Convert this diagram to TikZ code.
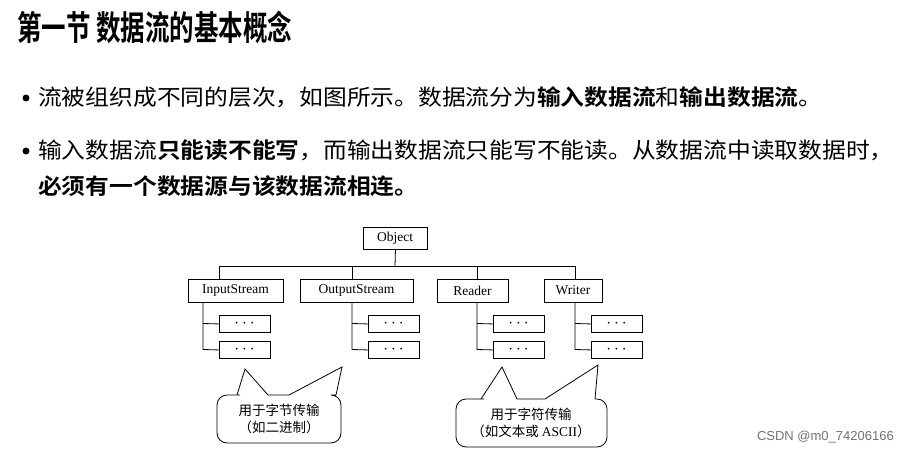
\documentclass[tikz,border=0pt]{standalone}
\usepackage{fontspec}
\setmainfont{Liberation Serif}
\newfontfamily\cjk{Noto Sans CJK SC}
\newfontfamily\cjkb{Noto Sans CJK SC Bold}
\newfontfamily\wm{Liberation Sans}
\begin{document}
\begin{tikzpicture}[x=1pt,y=-1pt,
  box/.style={draw,line width=0.9pt,inner sep=0pt,anchor=north west},
  ln/.style={line width=0.8pt},
  txt/.style={anchor=west,inner sep=0pt,xscale=1.08,font=\cjk\fontsize{22}{24}\selectfont},
  lbl/.style={font=\fontsize{13.5}{15}\selectfont},
  dots/.style={font=\bfseries\fontsize{16}{16}\selectfont}]
\useasboundingbox (0,0) rectangle (909,454);
\fill[white] (0,0) rectangle (909,454);
% title
\node[anchor=west,inner sep=0pt,xscale=0.72,font=\cjkb\fontsize{34}{38}\selectfont] (title) at (17,27) {第一节 数据流的基本概念};
% bullets
\fill (26,98) circle (3.5) (26,151) circle (3.5);
\node[txt] (l1) at (38,97) {流被组织成不同的层次，如图所示。数据流分为{\cjkb 输入数据流}和{\cjkb 输出数据流}。};
\node[txt] (l2) at (38,150) {输入数据流{\cjkb 只能读不能写}，而输出数据流只能写不能读。从数据流中读取数据时，};
\node[txt] (l3) at (38,186) {\cjkb 必须有一个数据源与该数据流相连。};
% diagram
\node[box,minimum width=64,minimum height=22] (obj) at (363,227) {};
\node[lbl] at (395,238) {Object};
\node[box,minimum width=95,minimum height=23] (is) at (188,279) {};
\node[lbl] at (235.5,290.5) {InputStream};
\node[box,minimum width=113,minimum height=23] (os) at (300,279) {};
\node[lbl] at (356.5,290.5) {OutputStream};
\node[box,minimum width=71,minimum height=23] (rd) at (437,279) {};
\node[lbl] at (472.5,290.5) {Reader};
\node[box,minimum width=58,minimum height=23] (wr) at (544,279) {};
\node[lbl] at (573,290.5) {Writer};
\coordinate (bL) at (219,266); \coordinate (bR) at (575,266);
\draw[ln] (obj.south) -- (395,266);
\draw[ln] (bL) -- (bR);
\draw[ln] (219,266) -- (219,279);
\draw[ln] (352,266) -- (352,279);
\draw[ln] (477,266) -- (477,279);
\draw[ln] (575,266) -- (575,279);
\foreach \n/\lx/\bx in {a/203/219, b/352/368, c/477/493, d/575/591}{
  \node[box,minimum width=51,minimum height=17] (\n1) at (\bx,315) {};
  \node[box,minimum width=51,minimum height=17] (\n2) at (\bx,341) {};
  \node[dots] at (\bx+25.5,323.5) {$\cdots$};
  \node[dots] at (\bx+25.5,349.5) {$\cdots$};
  \draw[ln] (\lx,302) -- (\lx,349.5) -- (\n2.west);
  \draw[ln] (\lx,323.5) -- (\n1.west);
}
% callouts
\draw[ln,rounded corners=10] (240,395) -- (217,395) -- (217,443) -- (341,443) -- (341,395) -- (336,395);
\draw[ln] (237,395) -- (245,369) -- (268,395) -- (289,395) -- (342,367) -- (336,395);
\node[align=center,font=\cjk\fontsize{13.5}{17}\selectfont] (c1) at (279,419) {用于字节传输\\（如二进制）};
\draw[ln,rounded corners=10] (484,399) -- (456,399) -- (456,447) -- (607,447) -- (607,399) -- (595,399);
\draw[ln] (481,399) -- (502,367) -- (517,399) -- (545,399) -- (598,365) -- (595,399);
\node[align=center,font=\cjk\fontsize{13.5}{17}\selectfont] (c2) at (531,423) {用于字符传输\\（如文本或 {\rmfamily ASCII}）};
\node[anchor=east,inner sep=0pt,text=black!55,font=\wm\fontsize{13}{15}\selectfont] (wmk) at (894,437) {CSDN @m0\_74206166};
\end{tikzpicture}
\end{document}
